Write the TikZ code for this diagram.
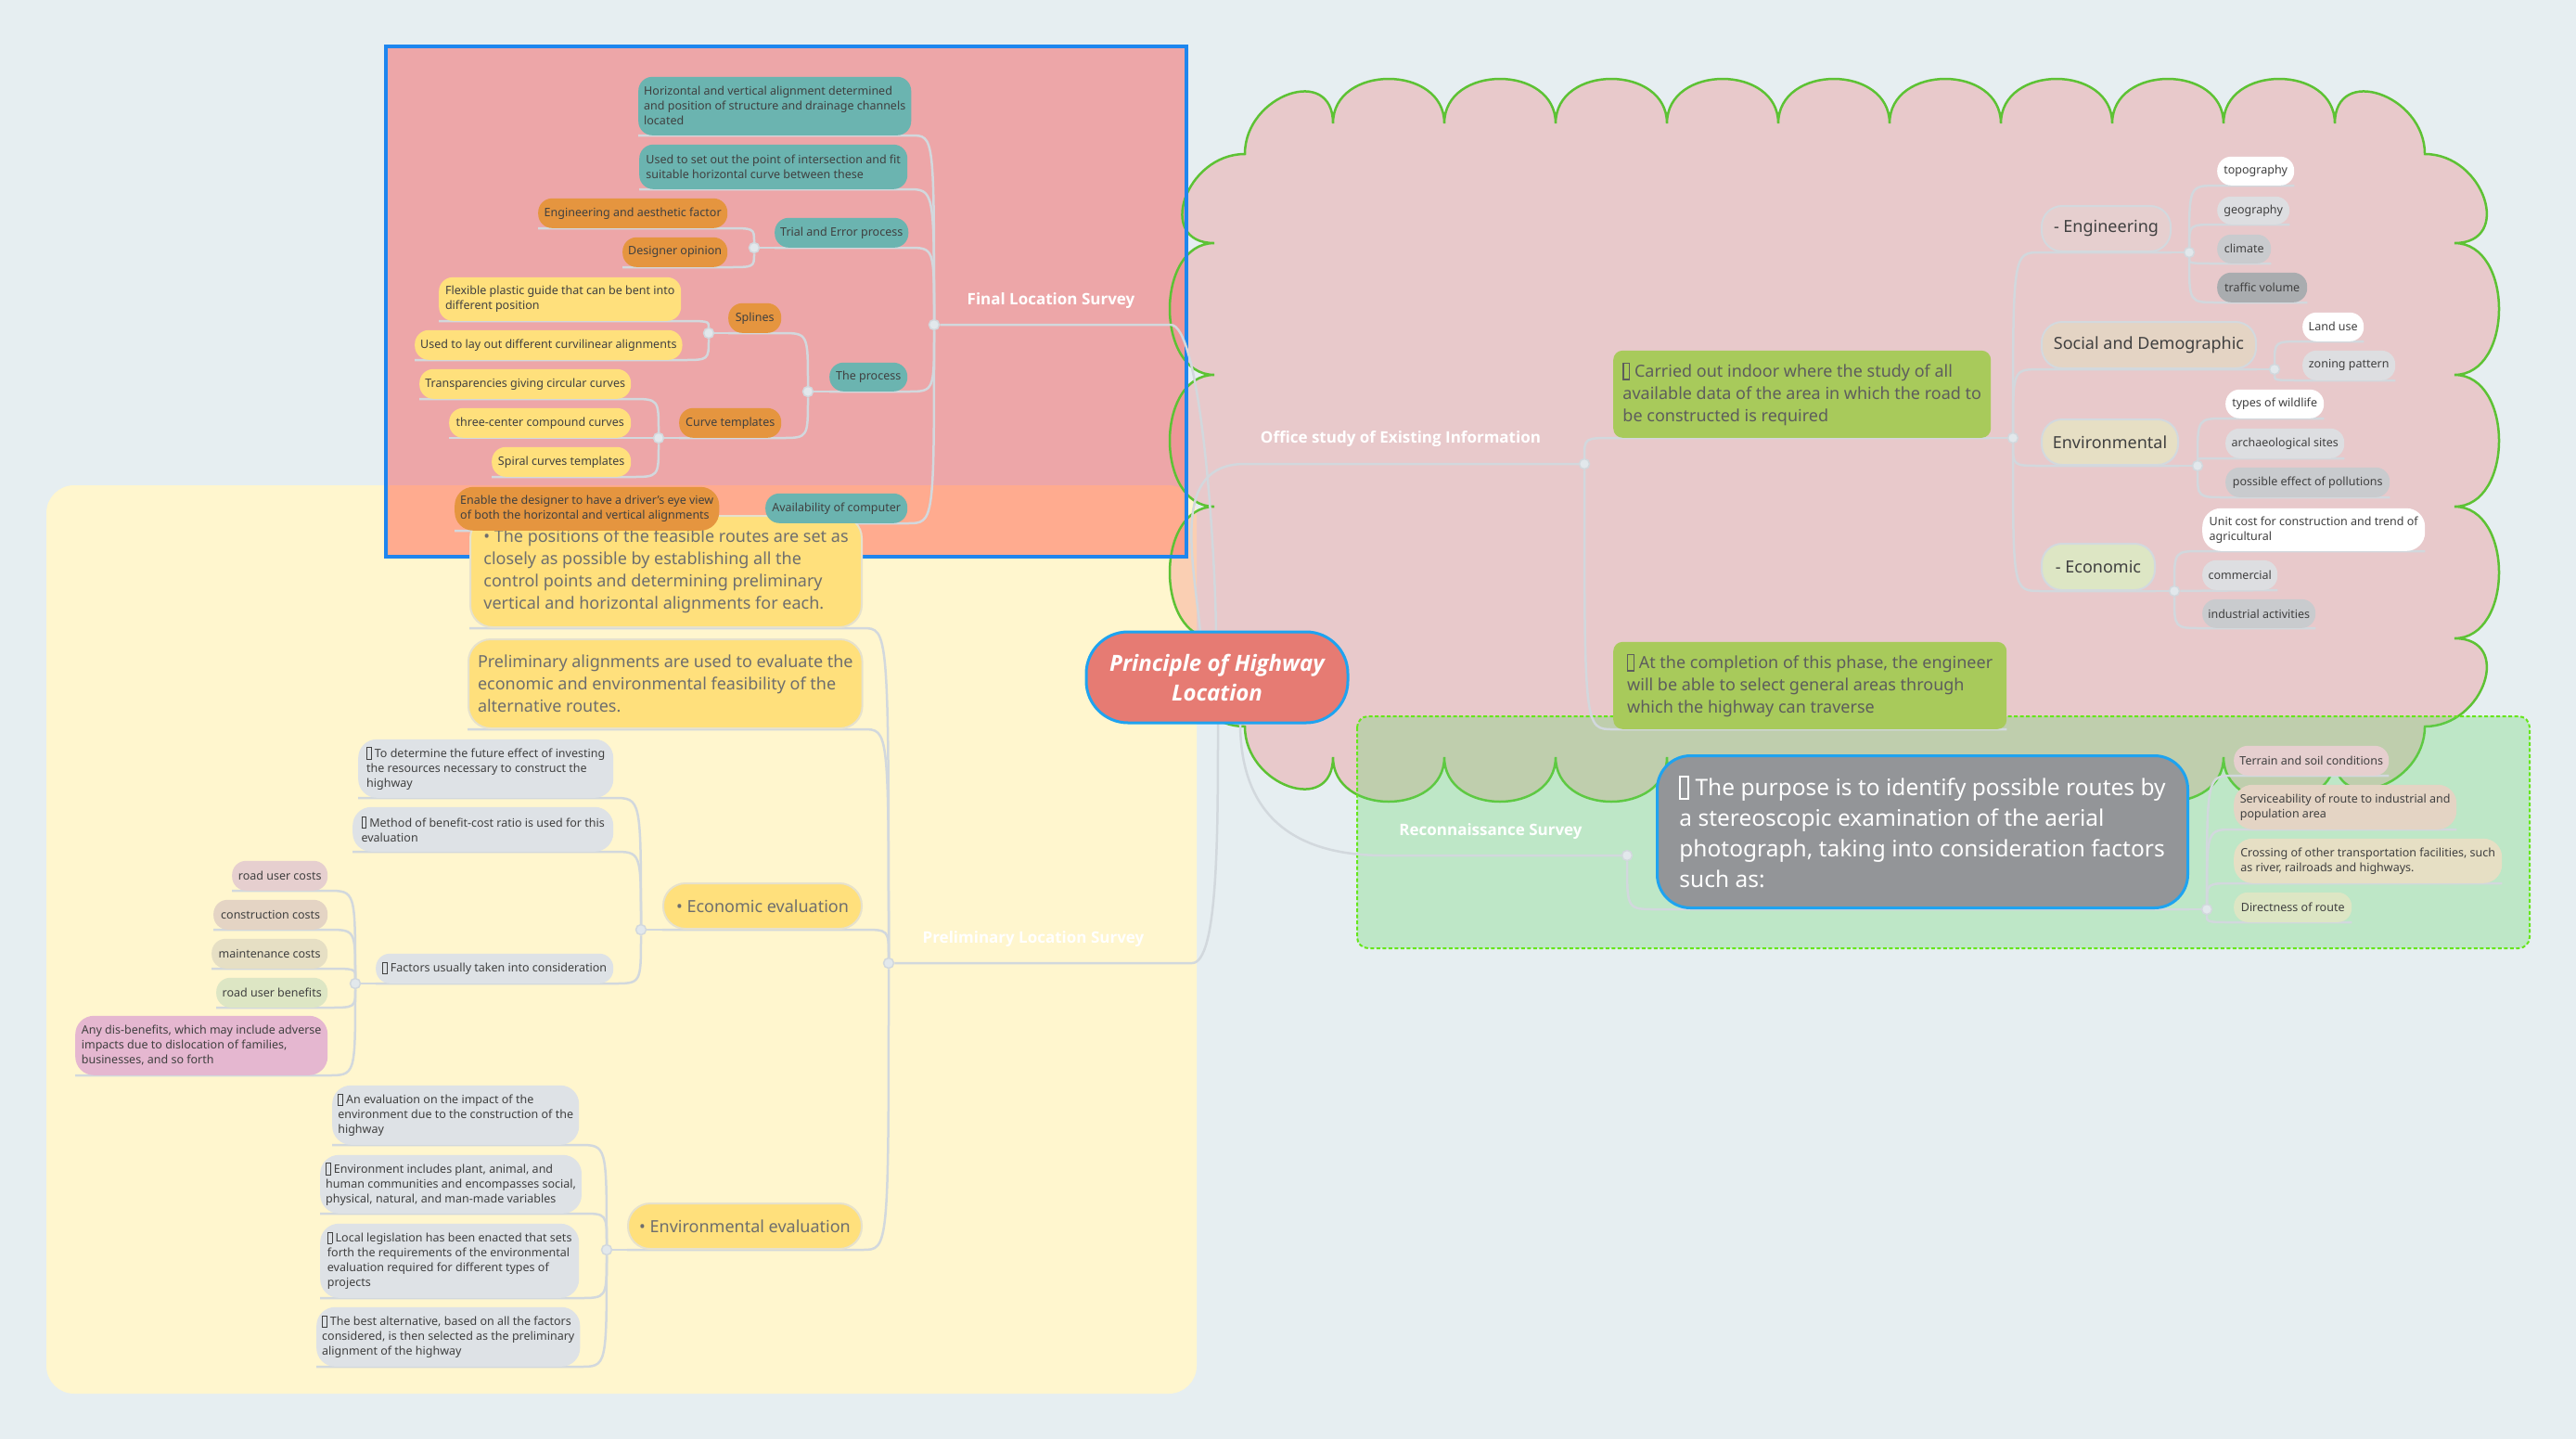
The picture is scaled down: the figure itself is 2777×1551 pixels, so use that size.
\documentclass[tikz,border=0pt]{standalone}
\usepackage{fontspec}
\setmainfont{Noto Sans}
\newfontfamily\headfont{Open Sans}
\usetikzlibrary{backgrounds}

\definecolor{bgc}{HTML}{E6EEF1}
\definecolor{zoney}{HTML}{FFF6CE}
\definecolor{cloudc}{RGB}{239,118,118}
\definecolor{cloudln}{HTML}{5DC234}
\definecolor{recc}{RGB}{99,218,104}
\definecolor{recln}{HTML}{66E61A}
\definecolor{finblue}{HTML}{1E86EE}
\definecolor{nodeblue}{HTML}{1EA3F0}
\definecolor{linkc}{HTML}{D2D8DD}
\definecolor{dotc}{HTML}{E2E8EC}
\definecolor{ink}{HTML}{404040}
\definecolor{softink}{HTML}{6E6E6E}
\definecolor{tealc}{HTML}{6BB4B0}
\definecolor{orangec}{HTML}{E5953F}
\definecolor{goldc}{HTML}{FFE07C}
\definecolor{bordy}{HTML}{E6E1CC}
\definecolor{greyc}{HTML}{DEE2E6}
\definecolor{purc}{HTML}{939598}
\definecolor{rootc}{HTML}{E67B73}
\definecolor{officec}{HTML}{A8CA5B}
\definecolor{pinkc}{HTML}{E6CFCF}
\definecolor{sandc}{HTML}{E4D4C4}
\definecolor{creamc}{HTML}{E6DFC4}
\definecolor{sagec}{HTML}{DDE6C4}
\definecolor{lilacc}{HTML}{E5B7D0}
\definecolor{leafa}{HTML}{DDDEE1}
\definecolor{leafb}{HTML}{C9CBCE}
\definecolor{leafc}{HTML}{A9ACAF}
\definecolor{bordc}{HTML}{D3D9DE}

% the empty glyph box printed before some texts
\newcommand{\tofubox}{{\setlength{\fboxsep}{0pt}\setlength{\fboxrule}{0.07em}\raisebox{-0.1em}{\fbox{\rule{0pt}{0.9em}\hspace{0.3em}}}}}

\begin{document}
\begin{tikzpicture}[x=1pt, y=-1pt,
    leaf/.style={anchor=south west, align=left, inner xsep=6pt, inner ysep=0pt, rounded corners=15pt, text=ink, font=\fontsize{12.5}{16}\selectfont},
    sz/.style 2 args={minimum width=#1pt, minimum height=#2pt},
    big/.style={font=\fontsize{18}{24}\selectfont},
    cat/.style={leaf, big, draw=bordc, line width=2pt, rounded corners=22pt, inner xsep=10pt},
    yel/.style={leaf, big, fill=goldc, draw=bordy, line width=2pt, rounded corners=24pt, text=softink, inner xsep=10pt},
    offc/.style={leaf, big, fill=officec, rounded corners=10pt, text=ink!85},
    pur/.style={leaf, draw=nodeblue, line width=3pt, fill=purc, text=white, font=\fontsize{24.5}{33}\selectfont, rounded corners=36pt, inner xsep=14pt},
    root/.style={draw=nodeblue, line width=3pt, fill=rootc, text=white, rounded corners=45pt, minimum width=282pt, minimum height=98pt, align=center, font=\headfont\bfseries\itshape\fontsize{24}{32}\selectfont},
    lbl/.style={text=white, font=\headfont\bfseries\fontsize{17}{20}\selectfont},
    dot/.style={circle, fill=dotc, draw=linkc, line width=1.5pt, minimum size=11pt, inner sep=0pt},
    link/.style={draw=linkc, line width=2.5pt},
    cloud/.style={fill=cloudc, fill opacity=.3, draw=cloudln, line width=2.5pt}
  ]
  \useasboundingbox (0,0) rectangle (2777,1551);

  % zones
  \begin{scope}[on background layer]
    \fill[bgc] (0,0) rectangle (2777,1551);
    \fill[zoney, rounded corners=30pt] (50,523) rectangle (1290,1502);
    \fill[red, fill opacity=.3] (416,50) rectangle (1279,600);
    \path[cloud] (1342,166)
      \foreach \x in {1437,1557,...,2517} {.. controls +(0,-64) and +(0,-64) .. (\x,133)}
      .. controls +(0,-64) and +(0,-64) .. (2614,166)
      \foreach \y in {262,404,546,688} {.. controls +(64,0) and +(64,0) .. (2646,\y)}
      .. controls +(64,0) and +(64,0) .. (2614,783)
      \foreach \x in {2517,2397,...,1437} {.. controls +(0,64) and +(0,64) .. (\x,816)}
      .. controls +(0,64) and +(0,64) .. (1342,783)
      \foreach \y in {688,546,404,262} {.. controls +(-64,0) and +(-64,0) .. (1309,\y)}
      .. controls +(-64,0) and +(-64,0) .. (1342,166) -- cycle;
    \draw[recln, line width=2pt, dash pattern=on 4pt off 2.5pt, fill=recc, fill opacity=.3, rounded corners=12pt] (1463,772) rectangle (2727,1022);
    \draw[finblue, line width=4pt] (416,50) rectangle (1279,600);
  \end{scope}

  % centre
  \node[root] (root) at (1312,730) {Principle of Highway\\Location};
  \coordinate (rfin) at (1311,681);
  \coordinate (rofs) at (1294,681);
  \coordinate (rpre) at (1313,779);
  \coordinate (rrec) at (1337,779);

  % final location survey
  \node[lbl] (lfin) at (1133,324) {Final Location Survey};
  \coordinate (finend) at (1262,350);
  \node[dot] (jfin) at (1007,350) {};
  \node[dot] (jtrial) at (813,267) {};
  \node[dot] (jproc) at (871,422) {};
  \node[dot] (jspl) at (764,359) {};
  \node[dot] (jctp) at (710,472) {};
  \node[leaf, fill=tealc, sz={290}{63}] (hva) at (688,146) {Horizontal and vertical alignment determined\\and position of structure and drainage channels\\located};
  \node[leaf, fill=tealc, sz={289}{48}] (uts) at (689,204) {Used to set out the point of intersection and fit\\suitable horizontal curve between these};
  \node[leaf, fill=tealc, sz={143}{32}] (trial) at (835,267) {Trial and Error process};
  \node[leaf, fill=tealc, sz={84}{31}] (proc) at (894,422) {The process};
  \node[leaf, fill=orangec, sz={204}{32}] (eaf) at (580,246) {Engineering and aesthetic factor};
  \node[leaf, fill=orangec, sz={113}{32}] (dop) at (671,288) {Designer opinion};
  \node[leaf, fill=orangec, sz={57}{32}] (spl) at (785,359) {Splines};
  \node[leaf, fill=orangec, sz={110}{32}] (ctp) at (732,472) {Curve templates};
  \node[leaf, fill=goldc, sz={261}{47}] (flx) at (473,346) {Flexible plastic guide that can be bent into\\different position};
  \node[leaf, fill=goldc, sz={287}{32}] (lay) at (447,388) {Used to lay out different curvilinear alignments};
  \node[leaf, fill=goldc, sz={228}{32}] (trn) at (452,430) {Transparencies giving circular curves};
  \node[leaf, fill=goldc, sz={196}{32}] (thc) at (484,472) {three-center compound curves};
  \node[leaf, fill=goldc, sz={150}{32}] (spc) at (530,514) {Spiral curves templates};

  % preliminary location survey
  \node[lbl] (lpre) at (1114,1012) {Preliminary Location Survey};
  \coordinate (preend) at (1285,1038);
  \node[dot] (jpre) at (958,1038) {};
  \node[dot] (jecv) at (691,1002) {};
  \node[dot] (jevv) at (654,1347) {};
  \node[dot] (jfac) at (383,1060) {};
  \node[yel, sz={422}{120}] (pos) at (506,677) {• The positions of the feasible routes are set as\\closely as possible by establishing all the\\control points and determining preliminary\\vertical and horizontal alignments for each.};
  \node[yel, sz={424}{96}] (pal) at (504,786) {Preliminary alignments are used to evaluate the\\economic and environmental feasibility of the\\alternative routes.};
  \node[yel, sz={214}{49}] (ecv) at (714,1002) {• Economic evaluation};
  \node[yel, sz={252}{49}] (env2) at (676,1347) {• Environmental evaluation};
  \node[leaf, fill=greyc, sz={275}{63}, rounded corners=20pt] (det) at (386,860) {\tofubox{} To determine the future effect of investing\\the resources necessary to construct the\\highway};
  \node[leaf, fill=greyc, sz={281}{48}, rounded corners=20pt] (mth) at (380,918) {\tofubox{} Method of benefit-cost ratio is used for this\\evaluation};
  \node[leaf, fill=greyc, sz={256}{32}] (fac) at (405,1060) {\tofubox{} Factors usually taken into consideration};
  \node[leaf, fill=pinkc, sz={103}{32}] (ruc) at (250,960) {road user costs};
  \node[leaf, fill=sandc, sz={123}{32}] (coc) at (230,1002) {construction costs};
  \node[leaf, fill=creamc, sz={125}{32}] (mac) at (228,1044) {maintenance costs};
  \node[leaf, fill=sagec, sz={120}{32}] (rub) at (233,1086) {road user benefits};
  \node[leaf, fill=lilacc, sz={272}{64}, rounded corners=20pt] (dis) at (81,1159) {Any dis-benefits, which may include adverse\\impacts due to dislocation of families,\\businesses, and so forth};
  \node[leaf, fill=greyc, sz={266}{64}, rounded corners=20pt] (ev1) at (358,1234) {\tofubox{} An evaluation on the impact of the\\environment due to the construction of the\\highway};
  \node[leaf, fill=greyc, sz={279}{63}, rounded corners=20pt] (ev2) at (345,1308) {\tofubox{} Environment includes plant, animal, and\\human communities and encompasses social,\\physical, natural, and man-made variables};
  \node[leaf, fill=greyc, sz={279}{80}, rounded corners=20pt] (ev3) at (345,1399) {\tofubox{} Local legislation has been enacted that sets\\forth the requirements of the environmental\\evaluation required for different types of\\projects};
  \node[leaf, fill=greyc, sz={283}{64}, rounded corners=20pt] (ev4) at (341,1473) {\tofubox{} The best alternative, based on all the factors\\considered, is then selected as the preliminary\\alignment of the highway};

  % these two lie over the positions node
  \node[leaf, fill=tealc, sz={153}{32}] (avail) at (825,564) {Availability of computer};
  \node[leaf, fill=orangec, sz={285}{47}, rounded corners=20pt] (enb) at (490,572) {Enable the designer to have a driver's eye view\\of both the horizontal and vertical alignments};

  % office study
  \node[lbl] (lofs) at (1510,473) {Office study of Existing Information};
  \coordinate (ofsstart) at (1342,500);
  \node[dot] (jofs) at (1708,500) {};
  \node[dot] (jg1) at (2170,472) {};
  \node[dot] (jeng) at (2360,272) {};
  \node[dot] (jsoc) at (2452,398) {};
  \node[dot] (jenv) at (2369,502) {};
  \node[dot] (jeco) at (2344,637) {};
  \node[offc, sz={407}{94}] (g1) at (1739,472) {\tofubox{} Carried out indoor where the study of all\\available data of the area in which the road to\\be constructed is required};
  \node[offc, sz={424}{94}] (g2) at (1739,786) {\tofubox{} At the completion of this phase, the engineer\\will be able to select general areas through\\which the highway can traverse};
  \node[cat, fill=pinkc, sz={139}{49}] (eng) at (2200,272) {- Engineering};
  \node[cat, fill=sandc, sz={231}{50}] (soc) at (2200,398) {Social and Demographic};
  \node[cat, fill=creamc, sz={147}{49}] (env) at (2200,502) {Environmental};
  \node[cat, fill=sagec, sz={122}{50}] (eco) at (2200,637) {- Economic};
  \node[leaf, fill=white, sz={83}{31}] (topo) at (2390,200) {topography};
  \node[leaf, fill=leafa, sz={78}{30}] (geo) at (2390,242) {geography};
  \node[leaf, fill=leafb, sz={58}{31}] (cli) at (2390,284) {climate};
  \node[leaf, fill=leafc, sz={97}{32}] (trf) at (2390,326) {traffic volume};
  \node[leaf, fill=white, sz={66}{31}] (land) at (2482,368) {Land use};
  \node[leaf, fill=leafa, sz={100}{32}] (zon) at (2482,410) {zoning pattern};
  \node[leaf, fill=white, sz={106}{31}] (wild) at (2399,451) {types of wildlife};
  \node[leaf, fill=leafa, sz={128}{32}] (arch) at (2399,494) {archaeological sites};
  \node[leaf, fill=leafb, sz={177}{32}] (poll) at (2399,536) {possible effect of pollutions};
  \node[leaf, fill=white, sz={240}{46}, rounded corners=20pt] (unit) at (2374,594) {Unit cost for construction and trend of\\agricultural};
  \node[leaf, fill=leafa, sz={81}{32}] (com) at (2374,636) {commercial};
  \node[leaf, fill=leafb, sz={122}{31}] (ind) at (2374,677) {industrial activities};

  % reconnaissance survey
  \node[lbl] (lrec) at (1607,896) {Reconnaissance Survey};
  \coordinate (recstart) at (1492,922);
  \node[dot] (jrec) at (1754,922) {};
  \node[dot] (jpur) at (2379,980) {};
  \node[pur, sz={572}{164}] (pur) at (1785,980) {\tofubox{} The purpose is to identify possible routes by\\a stereoscopic examination of the aerial\\photograph, taking into consideration factors\\such as:};
  \node[leaf, fill=pinkc, sz={167}{32}] (ter) at (2408,836) {Terrain and soil conditions};
  \node[leaf, fill=sandc, sz={240}{48}, rounded corners=20pt] (ser) at (2408,894) {Serviceability of route to industrial and\\population area};
  \node[leaf, fill=creamc, sz={289}{48}, rounded corners=20pt] (crs) at (2408,952) {Crossing of other transportation facilities, such\\as river, railroads and highways.};
  \node[leaf, fill=sagec, sz={127}{32}] (dir) at (2408,994) {Directness of route};

  % connectors
  \begin{scope}[on background layer]
    \foreach \c/\j in {hva/jfin, uts/jfin, trial/jfin, proc/jfin, avail/jfin,
        eaf/jtrial, dop/jtrial, spl/jproc, ctp/jproc, flx/jspl, lay/jspl,
        trn/jctp, spc/jctp, pos/jpre, pal/jpre, ecv/jpre, env2/jpre,
        det/jecv, mth/jecv, fac/jecv, ruc/jfac, coc/jfac, mac/jfac, rub/jfac, dis/jfac,
        ev1/jevv, ev2/jevv, ev3/jevv, ev4/jevv}
      \draw[link] (\c.south west) -- (\c.south east) .. controls (\c.south east -| \j) .. (\j);
    \foreach \c/\j in {g1/jofs, g2/jofs, eng/jg1, soc/jg1, env/jg1, eco/jg1,
        topo/jeng, geo/jeng, cli/jeng, trf/jeng, land/jsoc, zon/jsoc,
        wild/jenv, arch/jenv, poll/jenv, unit/jeco, ind/jeco,
        pur/jrec, ter/jpur, ser/jpur, crs/jpur, dir/jpur}
      \draw[link] (\c.south east) -- (\c.south west) .. controls (\c.south west -| \j) .. (\j);
    \foreach \j/\c in {jtrial/trial, jproc/proc, jspl/spl, jctp/ctp, jecv/ecv, jevv/env2, jfac/fac}
      \draw[link] (\j) -- (\c.south west);
    \foreach \j/\c in {jg1/g1, jeng/eng, jsoc/soc, jenv/env, jeco/eco, jpur/pur}
      \draw[link] (\j) -- (\c.south east);
    \draw[link] (thc.south west) -- (jctp);
    \draw[link] (com.south east) -- (jeco);
    \draw[link] (enb.south west) -- (enb.south east) .. controls (800,572) and (800,564) .. (avail.south west);
    \draw[link] (jfin) -- (finend) .. controls (1292,350) and (1309,560) .. (rfin);
    \draw[link] (jofs) -- (ofsstart) .. controls (1262,500) and (1286,600) .. (rofs);
    \draw[link] (jpre) -- (preend) .. controls (1313,1038) and (1313,900) .. (rpre);
    \draw[link] (jrec) -- (recstart) .. controls (1375,922) and (1337,860) .. (rrec);
  \end{scope}
\end{tikzpicture}
\end{document}
